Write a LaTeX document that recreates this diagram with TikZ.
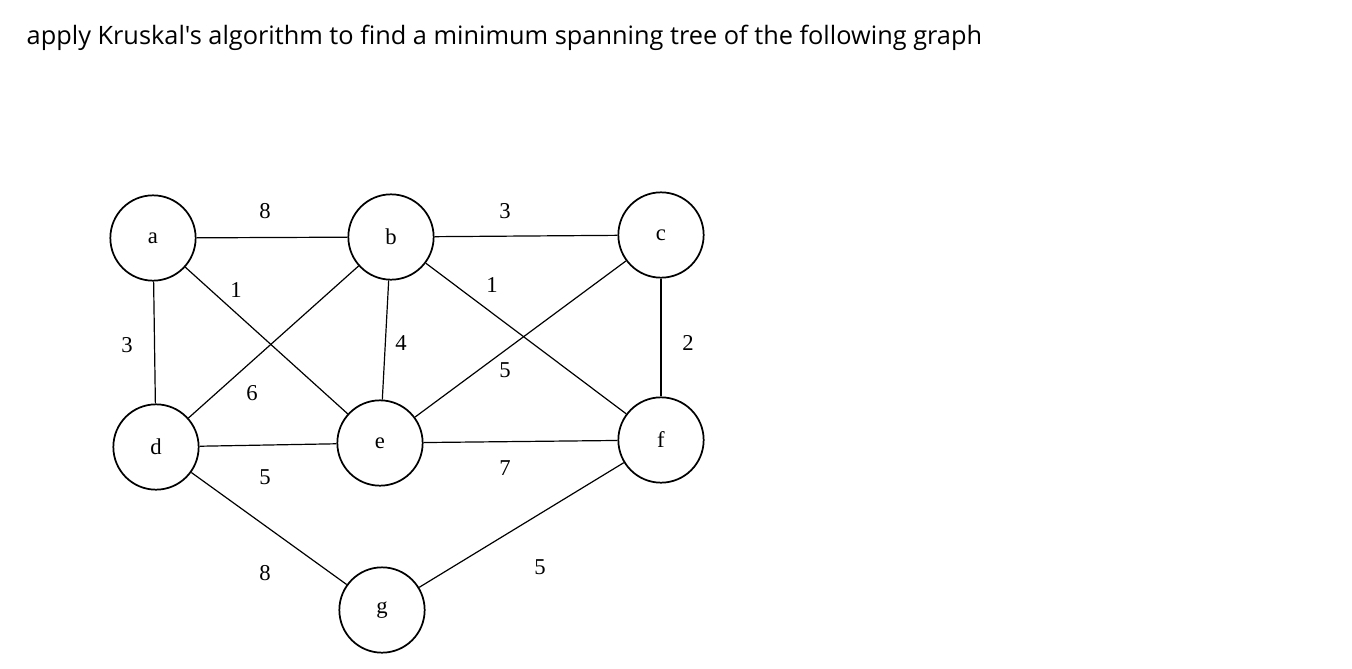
\documentclass[tikz,border=0pt]{standalone}
\usepackage{fontspec}
\setmainfont{Liberation Serif}
\newfontfamily\titlefont{Open Sans}
\begin{document}
\begin{tikzpicture}[x=0.75pt,y=-0.75pt,
  vtx/.style={circle,draw,line width=1.3pt,minimum size=64pt,inner sep=0pt,font=\fontsize{17}{20}\selectfont},
  edge/.style={line width=0.9pt},
  wt/.style={font=\fontsize{17}{20}\selectfont,inner sep=1pt}]
\useasboundingbox (0,0) rectangle (1352,668);
\node[anchor=west,font=\titlefont\fontsize{19}{22}\selectfont] (t) at (22,38) {apply Kruskal's algorithm to find a minimum spanning tree of the following graph};
\node[vtx] (a) at (153,238) {a};
\node[vtx] (b) at (391,237) {b};
\node[vtx] (c) at (661,235) {c};
\node[vtx] (d) at (156,447) {d};
\node[vtx] (e) at (380,443) {e};
\node[vtx] (f) at (661,440) {f};
\node[vtx] (g) at (382,610) {g};
\draw[edge] (a)--(b); \draw[edge] (b)--(c);
\draw[edge] (a)--(d); \draw[edge] (a)--(e);
\draw[edge] (b)--(d); \draw[edge] (b)--(e);
\draw[edge] (b)--(f); \draw[edge] (c)--(e);
\draw[edge] (c)--(f); \draw[edge] (d)--(e);
\draw[edge] (e)--(f); \draw[edge] (d)--(g);
\draw[edge] (f)--(g);
\node[wt] (w1) at (265,211) {8};
\node[wt] (w2) at (505,211) {3};
\node[wt] (w3) at (236,290) {1};
\node[wt] (w4) at (127,345) {3};
\node[wt] (w5) at (252,393) {6};
\node[wt] (w6) at (401,343) {4};
\node[wt] (w7) at (492,285) {1};
\node[wt] (w8) at (505,370) {5};
\node[wt] (w9) at (688,343) {2};
\node[wt] (w10) at (265,477) {5};
\node[wt] (w11) at (505,468) {7};
\node[wt] (w12) at (265,573) {8};
\node[wt] (w13) at (540,567) {5};
\end{tikzpicture}
\end{document}
